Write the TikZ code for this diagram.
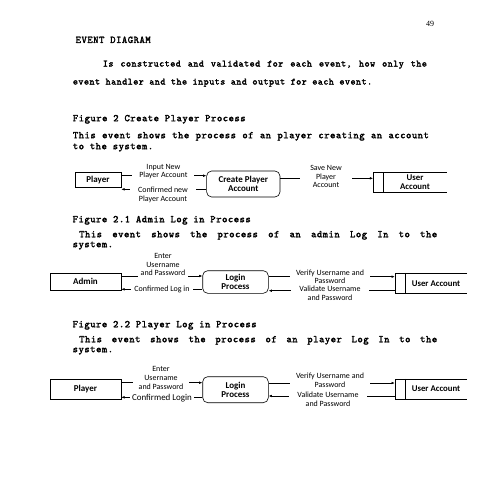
\documentclass[tikz,border=0pt]{standalone}
\usepackage{fontspec}
\setmainfont{Liberation Serif}
\newfontfamily\courfont{lmmono10-regular.otf}[FakeBold=2.2, LetterSpace=5]
\newfontfamily\califont{Carlito}
\usetikzlibrary{arrows.meta, positioning}
\newcommand{\jline}[2]{\hbox to #1{\spaceskip=\fontdimen2\font plus 1fil\relax #2}}

\begin{document}
\begin{tikzpicture}[x=1bp, y=-1bp,
    para/.style={anchor=west, inner sep=0, text height=6.5bp, text depth=2bp, font=\courfont\fontsize{10.2}{12}\selectfont},
    smallpara/.style={para, font=\courfont\fontsize{9.65}{12}\selectfont},
    ent/.style={draw, line width=0.6bp, inner sep=0, align=center, font=\califont\bfseries\fontsize{9}{9.5}\selectfont},
    proc/.style={ent, rounded corners=5bp},
    store/.style={inner sep=0, align=center, font=\califont\bfseries\fontsize{8.8}{9.5}\selectfont},
    lbl/.style={fill=white, inner ysep=1bp, align=center, font=\califont\fontsize{8}{8.7}\selectfont},
    flow/.style={line width=0.6bp, -{Latex[length=3.2bp,width=2.6bp]}},
    line/.style={line width=0.6bp}]
    \useasboundingbox (0,0) rectangle (495,495);

    % page text
    \node[font=\fontsize{8}{9}\selectfont] (pgno) at (430,24) {49};
    \node[para] (title) at (75.5,40.7) {EVENT DIAGRAM};
    \node[smallpara] (intro1) at (102.7,64.3) {\jline{324bp}{Is constructed and validated for each event, how only the}};
    \node[smallpara] (intro2) at (72.7,82.3) {event handler and the inputs and output for each event.};
    \node[para] (fig2) at (72.7,119) {Figure 2 Create Player Process};
    \node[para] (fig2a) at (72.7,136) {\jline{356bp}{This event shows the process of an player creating an account}};
    \node[para] (fig2b) at (72.7,147) {to the system.};
    \node[para] (fig21) at (72.5,220) {Figure 2.1 Admin Log in Process};
    \node[para] (fig21a) at (79,235) {\jline{358bp}{This event shows the process of an admin Log In to the}};
    \node[para] (fig21b) at (72.5,245) {system.};
    \node[para] (fig22) at (72.5,325) {Figure 2.2 Player Log in Process};
    \node[para] (fig22a) at (79,340) {\jline{358bp}{This event shows the process of an player Log In to the}};
    \node[para] (fig22b) at (72.5,350) {system.};

    % Figure 2
    \node[ent, minimum width=46bp, minimum height=14.5bp] (player1) at (98,179.8) {Player};
    \node[proc, minimum width=73.3bp, minimum height=26bp] (create) at (243.3,184) {Create Player\\Account};
    \node[store, minimum width=63.4bp, minimum height=20bp] (ua1) at (415,182.3) {User\\Account};
    \coordinate (ua1w) at ([xshift=-10bp]ua1.west);
    \draw[line] (ua1.north east) -- ([xshift=-10bp]ua1.north west) -- ([xshift=-10bp]ua1.south west) -- (ua1.south east)
        (ua1.north west) -- (ua1.south west);
    \draw[flow] (player1.east |- 0,175.7) -- (create.west |- 0,175.7);
    \draw[flow] (create.west |- 0,189.3) -- (player1.east |- 0,189.3);
    \draw[flow] (create.east |- 0,178.3) -- (ua1w |- 0,178.3);
    \node[lbl, inner xsep=7bp] (inacc) at (163.4,171.7) {Input New\\Player Account};
    \node[lbl, inner xsep=8bp] (confacc) at (163,195) {Confirmed new\\Player Account};
    \node[lbl, inner xsep=10bp] (saveacc) at (326,176.7) {Save New\\Player\\Account};

    % Figure 2.1
    \node[ent, minimum width=71bp, minimum height=16.7bp] (admin) at (85.5,281.7) {Admin};
    \node[proc, minimum width=65.6bp, minimum height=22.6bp] (login2) at (235.5,282) {Login\\Process};
    \node[store, minimum width=62bp, minimum height=20.3bp] (ua2) at (436,283.2) {User Account};
    \coordinate (ua2w) at ([xshift=-10bp]ua2.west);
    \draw[line] (ua2.north east) -- ([xshift=-10bp]ua2.north west) -- ([xshift=-10bp]ua2.south west) -- (ua2.south east)
        (ua2.north west) -- (ua2.south west);
    \draw[flow] (admin.east |- 0,276) -- (login2.west |- 0,276);
    \draw[flow] (login2.west |- 0,289.3) -- (admin.east |- 0,289.3);
    \draw[flow] (login2.east |- 0,276.7) -- (ua2w |- 0,276.7);
    \draw[flow] (ua2w |- 0,290.7) -- (login2.east |- 0,290.7);
    \node[lbl, inner xsep=3bp] (enter2) at (163,264.7) {Enter\\Username\\and Password};
    \node[lbl, inner xsep=3bp] (conf2) at (162,289.3) {Confirmed Log in};
    \node[lbl, inner xsep=6bp] (verify2) at (330,276.7) {Verify Username and\\Password};
    \node[lbl, inner xsep=8bp] (valid2) at (330,293.5) {Validate Username\\and Password};

    % Figure 2.2
    \node[ent, minimum width=71bp, minimum height=20bp] (player3) at (85.5,389.3) {Player};
    \node[proc, minimum width=65.6bp, minimum height=26bp] (login3) at (235.5,389.7) {Login\\Process};
    \node[store, minimum width=62bp, minimum height=19.8bp] (ua3) at (436,388.9) {User Account};
    \coordinate (ua3w) at ([xshift=-10bp]ua3.west);
    \draw[line] (ua3.north east) -- ([xshift=-10bp]ua3.north west) -- ([xshift=-10bp]ua3.south west) -- (ua3.south east)
        (ua3.north west) -- (ua3.south west);
    \draw[flow] (player3.east |- 0,382.7) -- (login3.west |- 0,382.7);
    \draw[flow] (login3.west |- 0,397.3) -- (player3.east |- 0,397.3);
    \draw[flow] (login3.east |- 0,383) -- (ua3w |- 0,383);
    \draw[flow] (ua3w |- 0,396) -- (login3.east |- 0,396);
    \node[lbl, inner xsep=6bp] (enter3) at (161,378) {Enter\\Username\\and Password};
    \node[lbl, inner xsep=2bp, font=\califont\fontsize{9}{10}\selectfont] (conf3) at (162,398.3) {Confirmed Login};
    \node[lbl, inner xsep=6bp] (verify3) at (330,380.5) {Verify Username and\\Password};
    \node[lbl, inner xsep=8bp] (valid3) at (328,399) {Validate Username\\and Password};
\end{tikzpicture}
\end{document}
